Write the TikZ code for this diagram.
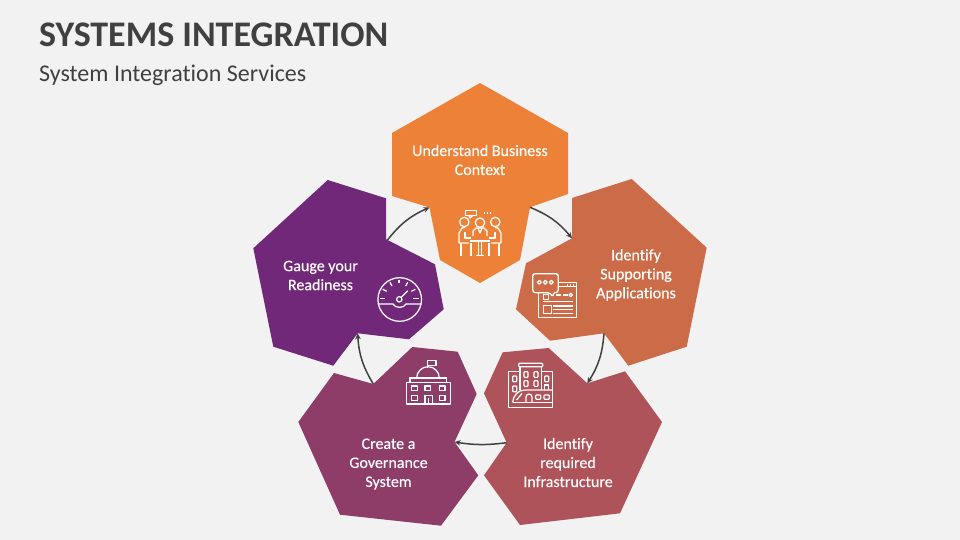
\documentclass[tikz,border=0pt]{standalone}
\usepackage{fontspec}
\setmainfont{Carlito}[Ligatures=NoCommon]
\newfontfamily\labelfont{Carlito}[Ligatures=NoCommon,FakeBold=0.3]
\usetikzlibrary{arrows.meta}
\definecolor{pageback}{HTML}{F2F2F2}
\definecolor{inkdark}{HTML}{404040}
\definecolor{stepone}{HTML}{ED8137}
\definecolor{steptwo}{HTML}{CC6B47}
\definecolor{stepthree}{HTML}{AD5359}
\definecolor{stepfour}{HTML}{8E3D68}
\definecolor{stepfive}{HTML}{722878}
\tikzset{
  steplabel/.style={text=white,align=center,font=\labelfont\fontsize{16}{19}\selectfont,inner sep=0pt},
  flowarrow/.style={draw=inkdark,line width=1.5pt,-{Stealth[length=6pt,width=5.5pt]}},
  iconline/.style={draw=white,line width=1.25pt,line join=round},
}
\begin{document}
\begin{tikzpicture}[x=1pt,y=-1pt]
\useasboundingbox (0,0) rectangle (960,540);
\fill[pageback] (0,0) rectangle (960,540);

\node[text=inkdark,font=\fontsize{36}{40}\selectfont\bfseries,anchor=base west,inner sep=0pt] (title) at (39,47) {SYSTEMS INTEGRATION};
\node[text=inkdark,font=\fontsize{24}{28}\selectfont,anchor=base west,inner sep=0pt] (subtitle) at (39,82) {System Integration Services};

\fill[stepone] (480,83) -- (568,133) -- (568,194) -- (530,207.3) coordinate (oneOut) -- (520,260) -- (480,283) -- (440,260) -- (429.5,207.5) coordinate (oneIn) -- (392,196) -- (392,133) -- cycle;
\fill[steptwo] (631.7,179) -- (706.7,247.7) -- (686.7,346.7) -- (628.3,365.7) -- (604,333.3) coordinate (twoOut) -- (550,340.7) -- (516,309.3) -- (526,263.3) -- (572,238.3) coordinate (twoIn) -- (572,198) -- cycle;
\fill[stepthree] (502.7,352.3) -- (548.7,348) -- (587.3,383.3) coordinate (threeIn) -- (625,371.3) -- (662,422) -- (620,513.3) -- (520,525) -- (484,475.3) -- (506.7,442.7) coordinate (threeOut) -- (484,393.3) -- cycle;
\fill[stepfour] (412.3,347) -- (457.7,351.7) -- (476.7,394) -- (454.5,442) coordinate (fourIn) -- (478.3,475.3) -- (441,525.7) -- (340,514.7) -- (298.3,422) -- (334,373) -- (373.3,384) coordinate (fourOut) -- cycle;
\fill[stepfive] (327.7,180) -- (386,198.3) -- (386,239.3) -- (387.5,240) coordinate (fiveOut) -- (435,264.3) -- (443.7,309.3) -- (409,339.3) -- (357.7,333.3) coordinate (fiveIn) -- (333.3,365.7) -- (273.3,346.7) -- (253.3,248.3) -- cycle;

\node[steplabel] (understand) at (480,160) {Understand Business\\Context};
\node[steplabel] (supporting) at (636,275) {Identify\\Supporting\\Applications};
\node[steplabel] (infra) at (568,462.5) {Identify\\required\\Infrastructure};
\node[steplabel] (governance) at (388.5,464) {Create a\\Governance\\System};
\node[steplabel] (readiness) at (320.5,275.5) {Gauge your\\Readiness};

\draw[flowarrow] (oneOut) to[bend left=14] (twoIn);
\draw[flowarrow] (twoOut) to[bend left=14] (threeIn);
\draw[flowarrow] (threeOut) to[bend left=8] (fourIn);
\draw[flowarrow] (fourOut) to[bend left=14] (fiveIn);
\draw[flowarrow] (fiveOut) to[bend left=14] (oneIn);

% meeting
\begin{scope}[iconline]
\draw (465.3,210.7) rectangle (476.7,215.7);
\draw (469,215.7) -- (470,218) -- (472.5,215.7);
\draw[dash pattern=on 1pt off 2pt] (484,213) -- (491,213);
\draw (464.3,222) circle (4.7);
\draw (480,222.7) circle (4.7);
\draw (495.3,222) circle (4.7);
\draw (469,243) -- (459,243) -- (459,233) -- (462,228) -- (465,227.5);
\draw (491,243) -- (501,243) -- (501,233) -- (498,228) -- (495,227.5);
\draw (471,238) -- (465,238) -- (465,232);
\draw (489,238) -- (495,238) -- (495,232);
\draw (473,236) -- (473,231) -- (476,228) -- (484,228) -- (487,231) -- (487,236);
\draw (478,228) -- (480,233) -- (482,228);
\draw (470,241) -- (490,241);
\draw (461,243) -- (461,255.5);
\draw (471,243) -- (471,255.5);
\draw (499,243) -- (499,255.5);
\draw (489,243) -- (489,255.5);
\draw (478.5,241) -- (478.5,255.5);
\draw (481.5,241) -- (481.5,255.5);
\draw (476,255.5) -- (484,255.5);
\end{scope}

% software window
\begin{scope}[iconline]
\draw[rounded corners=1.5pt] (549.3,292.7) -- (534,292.7) -- (532.7,291) -- (532.7,275) -- (534,273.7) -- (557,273.7) -- (558.3,275) -- (558.3,291) -- (557,292.7) -- (553.3,292.7) -- (553.3,296.7) -- cycle;
\draw (539.3,282.3) circle (1.9);
\draw (545.3,282.3) circle (1.9);
\draw (551.3,282.3) circle (1.9);
\draw (538.3,292.7) -- (538.3,317.3) -- (576.7,317.3) -- (576.7,282.7) -- (559,282.7);
\draw (559,286.7) -- (576.7,286.7);
\draw[dash pattern=on 1pt off 2pt] (567,285) -- (574,285);
\draw (543.3,294.7) rectangle (548.3,299.3);
\draw (556,295) -- (561,295);
\draw (563,295) -- (568,295);
\draw (570.7,295) circle (1.7);
\draw (542.7,301.7) -- (572.7,301.7);
\draw (543.3,305.7) rectangle (551.3,313.3);
\draw (552.7,306) -- (572.7,306);
\draw (552.7,309.5) -- (572.7,309.5);
\draw (552.7,313.3) -- (572.7,313.3);
\end{scope}

% office building
\begin{scope}[iconline]
\draw[rounded corners=0.8pt] (518.7,363.3) rectangle (542.7,366.7);
\draw (520,390) -- (520,366.7);
\draw (541.3,390) -- (541.3,366.7);
\draw (520,371.7) -- (508.7,371.7) -- (508.7,407.3) -- (552.7,407.3) -- (552.7,371.7) -- (541.3,371.7);
\draw (512.7,402.5) -- (552.7,402.5);
\draw (512.7,402.5) .. controls (513.5,395) and (518,390) .. (525,390) -- (552.7,390);
\draw (516.5,400) -- (522,393.5);
\foreach \wx/\wy in {512.7/376,512.7/386,524/371.7,534/371.7,524/380.7,534/380.7,544.7/376}
  \draw[rounded corners=0.8pt] (\wx,\wy) rectangle ++(4,5.7);
\draw (544.7,390) -- (544.7,385) -- (548.7,385) -- (548.7,390);
\draw (526,402.5) -- (526,397) arc[start angle=180,end angle=360,radius=3] -- (532,402.5);
\draw[rounded corners=0.8pt] (535.7,395) rectangle ++(5,4.3);
\draw[rounded corners=0.8pt] (544,395) rectangle ++(5.3,4.3);
\end{scope}

% capitol
\begin{scope}[iconline]
\draw (427.7,367.7) -- (427.7,360.7) -- (436,360.7) -- (436,365.7) -- (427.7,365.7);
\draw (416.7,378) arc[start angle=180,end angle=360,radius=11.3];
\draw (410,382.3) -- (410,378) -- (446.7,378) -- (446.7,382.3);
\draw (406.7,382.3) rectangle (450.7,404);
\foreach \wx/\wy in {411.7/386,425/386,439.3/386,411.7/395.7,439.3/395.7}
  \draw (\wx,\wy) rectangle ++(5.8,4.5);
\draw (425,404) -- (425,395.5) -- (432.7,395.5) -- (432.7,404);
\draw (428.8,404) -- (428.8,398);
\end{scope}

% gauge
\begin{scope}[iconline]
\draw (399.7,299.5) circle (21.8);
\draw (378.3,304) -- (393,304) .. controls (395,308.5) and (404,308.5) .. (406,304) -- (421.5,304);
\draw (399.3,299.3) circle (2.7);
\draw (401.2,297.4) -- (407.7,290.7);
\draw (399,279.7) -- (399,283.3);
\draw (390,282.3) -- (392,286);
\draw (382.7,289.3) -- (386.7,291.3);
\draw (380,298.7) -- (384.7,298.7);
\draw (407.7,282.3) -- (405.7,286);
\draw (415.3,289.3) -- (411.3,291.3);
\draw (418.7,298.7) -- (413.3,298.7);
\end{scope}
\end{tikzpicture}
\end{document}
